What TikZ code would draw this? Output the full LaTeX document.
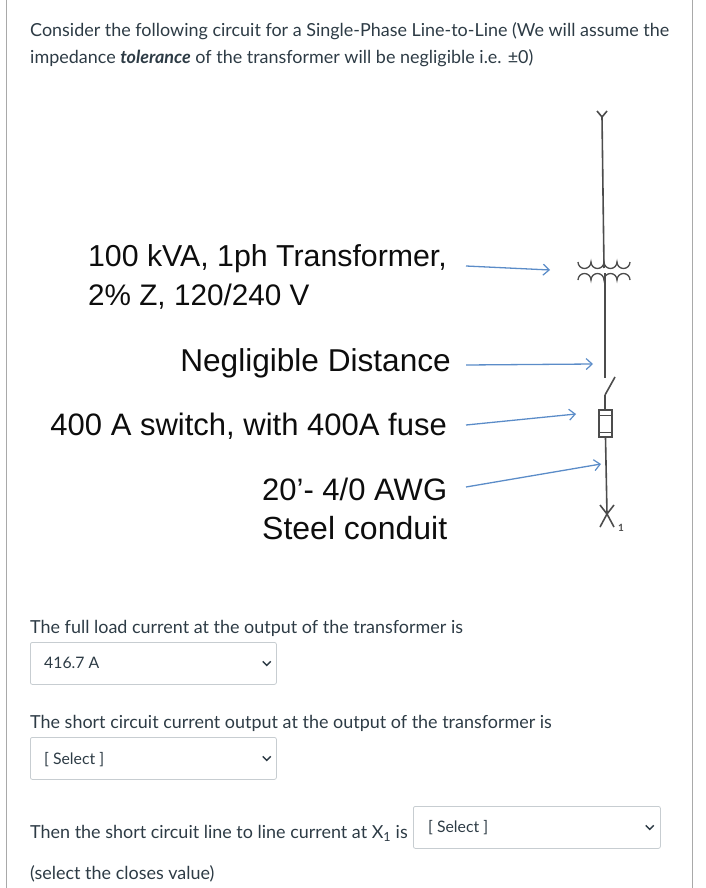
\documentclass[tikz,border=0pt]{standalone}
\usepackage{fontspec}
\setmainfont{Lato}
\newfontfamily\labelfont{Liberation Sans}
\usetikzlibrary{calc,arrows.meta,positioning}
\definecolor{inktext}{HTML}{2D3B45}
\definecolor{arrowblue}{HTML}{5B8CC8}
\definecolor{framegray}{HTML}{A9A9A9}
\definecolor{boxgray}{HTML}{C7CDD1}
\tikzset{
  >={Straight Barb[length=6pt,width=11pt,line width=1.2pt]},
  bodytext/.style={
    anchor=base west,
    inner sep=0pt,
    text=inktext,
    font=\fontsize{17.95}{21}\selectfont},
  smalltext/.style={
    bodytext,
    font=\fontsize{15.8}{20}\selectfont},
  bigtext/.style={
    anchor=base east,
    inner sep=0pt,
    text=black!95,
    font=\labelfont\fontsize{#1}{36}\selectfont},
  bigtext/.default=31,
  callout/.style={draw=arrowblue, line width=1.3pt, ->},
  wire/.style={draw=black!70, line width=1.6pt},
  dropbox/.style={
    rectangle,
    rounded corners=2pt,
    draw=boxgray, line width=.8pt,
    inner sep=0pt,
    anchor=north west},
  chevron/.style={draw=inktext, line width=1.4pt},
}

\begin{document}
\begin{tikzpicture}[x=1pt,y=-1pt]
  \useasboundingbox (0,0) rectangle (706,888);
  % page frame
  \coordinate (frameAtop) at (6,0);
  \coordinate (frameAbot) at (6,888);
  \coordinate (frameBtop) at (692,0);
  \coordinate (frameBbot) at (692,888);
  \draw[framegray, line width=1pt] (frameAtop) -- (frameAbot);
  \draw[framegray, line width=1pt] (frameBtop) -- (frameBbot);

  % question text
  \node[bodytext] (intro1) at (30,37) {Consider the following circuit for a Single-Phase Line-to-Line (We will assume the};
  \node[bodytext] (intro2) at (30,64) {impedance \textbf{\textit{tolerance}} of the transformer will be negligible i.e. ±0)};

  % labels of the one-line diagram
  \node[bigtext=30.3] (xfmr1) at (447,266) {100 kVA, 1ph Transformer,};
  \node[bigtext=29.7, anchor=base west] (xfmr2) at (88,305) {2\% Z, 120/240 V};
  \node[bigtext=31.6] (dist) at (451,371) {Negligible Distance};
  \node[bigtext] (switch) at (447,435) {400 A switch, with 400A fuse};
  \node[bigtext, anchor=base west] (cond1) at (262,500) {20’- 4/0 AWG};
  \node[bigtext=32, anchor=base west] (cond2) at (262,539) {Steel conduit};

  % one-line diagram
  \coordinate (top) at (602,117);
  \coordinate (xfmrhi) at (604,268);
  \coordinate (xfmrlo) at (605,273);
  \coordinate (gap) at (605,378);
  \coordinate (hinge) at (605,395);
  \coordinate (bladetip) at (615,377);
  \node[wire, rectangle, minimum width=13pt, minimum height=27pt, inner sep=0pt] (fuse) at (605.5,423.5) {};
  \coordinate (xpoint) at (607,514);
  \draw[wire] (top) -- (xfmrhi);
  \draw[wire] (top) -- ++(-5,-6);
  \draw[wire] (top) -- ++(5,-6);
  \draw[wire, line width=1.3pt] (578,262) arc[start angle=180, end angle=0, radius=6.5]
     arc[start angle=180, end angle=0, radius=6.5]
     arc[start angle=180, end angle=0, radius=6.5]
     arc[start angle=180, end angle=0, radius=6.5];
  \draw[wire, line width=1.3pt] (578,280) arc[start angle=180, end angle=360, radius=6.5]
     arc[start angle=180, end angle=360, radius=6.5]
     arc[start angle=180, end angle=360, radius=6.5]
     arc[start angle=180, end angle=360, radius=6.5];
  \draw[wire] (xfmrlo) -- (gap);
  \draw[wire] (bladetip) -- (hinge);
  \draw[wire] (hinge) -- (fuse.north -| hinge);
  \draw[wire, line width=.8pt] ($(fuse.north west)+(0,6)$) -- ($(fuse.north east)+(0,6)$);
  \draw[wire, line width=.8pt] ($(fuse.south west)+(0,-5)$) -- ($(fuse.south east)+(0,-5)$);
  \draw[wire] (fuse.south) -- (xpoint);
  \draw[wire] (xpoint) -- ++(-7,-9);
  \draw[wire] (xpoint) -- ++(7,-9);
  \draw[wire] (xpoint) -- ++(-7,13);
  \draw[wire] (xpoint) -- ++(7,13);
  \node[anchor=base west, inner sep=0pt, text=black!70, font=\fontsize{10}{11}\selectfont\bfseries] (xone) at (618,531) {1};

  % blue callouts
  \coordinate (xfmrA) at (466,266);
  \coordinate (xfmrB) at (550,270);
  \coordinate (distA) at (466,365);
  \coordinate (distB) at (593,364);
  \coordinate (switchA) at (466,425);
  \coordinate (switchB) at (576,414);
  \coordinate (condA) at (466,487);
  \coordinate (condB) at (601,464);
  \draw[callout] (xfmrA) -- (xfmrB);
  \draw[callout] (distA) -- (distB);
  \draw[callout] (switchA) -- (switchB);
  \draw[callout] (condA) -- (condB);

  % dropdowns
  \node[bodytext] (ask1) at (30,633) {The full load current at the output of the transformer is};
  \node[dropbox, minimum width=246pt, minimum height=42pt] (box1) at (30,642) {};
  \node[smalltext] (val1) at (44,668) {416.7 A};
  \draw[chevron] ($(box1.east)+(-14,-2)$) -- ++(4,4) -- ++(4,-4);

  \node[bodytext] (ask2) at (30,728) {The short circuit current output at the output of the transformer is};
  \node[dropbox, minimum width=246pt, minimum height=42pt] (box2) at (30,737) {};
  \node[smalltext] (val2) at (44,764) {[ Select ]};
  \draw[chevron] ($(box2.east)+(-14,-2)$) -- ++(4,4) -- ++(4,-4);

  \node[bodytext] (ask3) at (30,838) {Then the short circuit line to line current at X\textsubscript{1} is};
  \node[dropbox, minimum width=247pt, minimum height=42pt] (box3) at (413,806) {};
  \node[smalltext] (val3) at (428,832) {[ Select ]};
  \draw[chevron] ($(box3.east)+(-15,-2)$) -- ++(4,4) -- ++(4,-4);

  \node[bodytext] (note) at (30,879) {(select the closes value)};
\end{tikzpicture}
\end{document}
